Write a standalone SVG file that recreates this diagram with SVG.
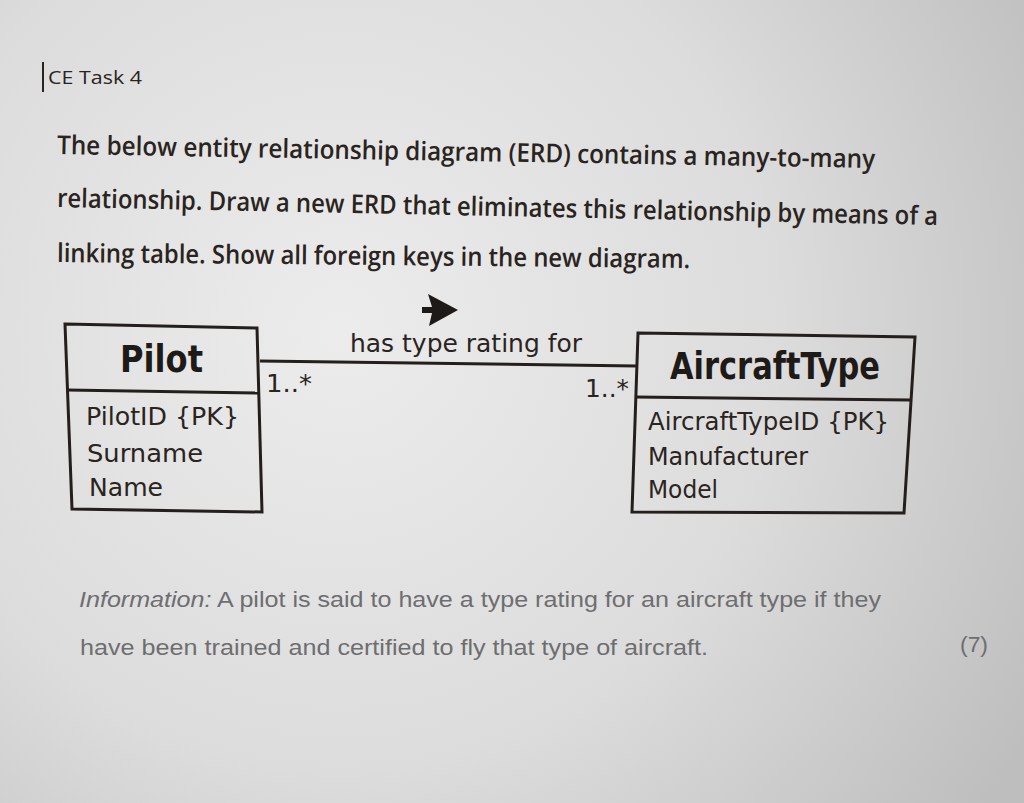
<svg xmlns="http://www.w3.org/2000/svg" width="1024" height="803" viewBox="0 0 1024 803">
<defs>
  <radialGradient id="bg" cx="340" cy="330" r="800" gradientUnits="userSpaceOnUse">
    <stop offset="0" stop-color="#ececec"/>
    <stop offset="0.55" stop-color="#dcdcdc"/>
    <stop offset="1" stop-color="#bebebe"/>
  </radialGradient>
  <style>
    .body{font-family:"Open Sans","Liberation Sans",sans-serif;font-weight:600;font-size:26px;fill:#2a2420}
    .erd{font-family:"DejaVu Sans","Liberation Sans",sans-serif;font-size:25px;fill:#2a2420}
    .title{font-family:"DejaVu Sans","Liberation Sans",sans-serif;font-weight:bold;font-size:37px;fill:#1e1a18}
    .info{font-family:"Liberation Sans","Open Sans",sans-serif;font-size:22px;fill:#6e6e70}
    .frame{fill:none;stroke:#241f1c;stroke-width:3;stroke-linejoin:miter}
  </style>
</defs>
<rect x="0" y="0" width="1024" height="803" fill="url(#bg)"/>

<line x1="43" y1="62" x2="43" y2="92" stroke="#2a2420" stroke-width="2"/>
<text x="48" y="84" font-family="Open Sans, Liberation Sans, sans-serif" font-size="19" fill="#2a2420" textLength="94" lengthAdjust="spacingAndGlyphs">CE Task 4</text>

<text class="body" x="57" y="154" transform="rotate(0.98 57 154)" textLength="818" lengthAdjust="spacingAndGlyphs">The below entity relationship diagram (ERD) contains a many-to-many</text>
<text class="body" x="57" y="207" transform="rotate(1.17 57 207)" textLength="881" lengthAdjust="spacingAndGlyphs">relationship. Draw a new ERD that eliminates this relationship by means of a</text>
<text class="body" x="57" y="262" transform="rotate(0.54 57 262)" textLength="633" lengthAdjust="spacingAndGlyphs">linking table. Show all foreign keys in the new diagram.</text>

<g id="connectors">
  <line x1="260" y1="361" x2="637" y2="366" stroke="#241f1c" stroke-width="3"/>
  <polygon points="422,307 432,307 428,294 458,310 429,326 432,313 422,313" fill="#1e1a18"/>
  <text class="erd" x="350" y="352" font-size="27" textLength="232" lengthAdjust="spacingAndGlyphs">has type rating for</text>
  <text class="erd" x="266" y="392" textLength="46" lengthAdjust="spacingAndGlyphs">1..*</text>
  <text class="erd" x="585" y="397" textLength="44" lengthAdjust="spacingAndGlyphs">1..*</text>
</g>

<g id="pilot">
  <polygon class="frame" points="65,324 257,328 262,512 72,509"/>
  <line x1="67" y1="390" x2="259" y2="393" stroke="#241f1c" stroke-width="3"/>
  <text class="title" x="120" y="372" textLength="83" lengthAdjust="spacingAndGlyphs">Pilot</text>
  <text class="erd" x="86" y="425" textLength="153" lengthAdjust="spacingAndGlyphs">PilotID {PK}</text>
  <text class="erd" x="87" y="462" textLength="116" lengthAdjust="spacingAndGlyphs">Surname</text>
  <text class="erd" x="89" y="496" textLength="74" lengthAdjust="spacingAndGlyphs">Name</text>
</g>

<g id="aircrafttype">
  <polygon class="frame" points="638,333 915,337 904,513 632,512"/>
  <line x1="635" y1="397" x2="911" y2="400" stroke="#241f1c" stroke-width="3"/>
  <text class="title" x="670" y="379" textLength="210" lengthAdjust="spacingAndGlyphs">AircraftType</text>
  <text class="erd" x="648" y="430" textLength="241" lengthAdjust="spacingAndGlyphs">AircraftTypeID {PK}</text>
  <text class="erd" x="648" y="465" textLength="160" lengthAdjust="spacingAndGlyphs">Manufacturer</text>
  <text class="erd" x="648" y="498" textLength="70" lengthAdjust="spacingAndGlyphs">Model</text>
</g>

<text class="info" x="79" y="607" textLength="802" lengthAdjust="spacingAndGlyphs"><tspan font-style="italic">Information:</tspan> A pilot is said to have a type rating for an aircraft type if they</text>
<text class="info" x="80" y="655" textLength="628" lengthAdjust="spacingAndGlyphs">have been trained and certified to fly that type of aircraft.</text>
<text class="info" x="960" y="652" textLength="28" lengthAdjust="spacingAndGlyphs">(7)</text>
</svg>
